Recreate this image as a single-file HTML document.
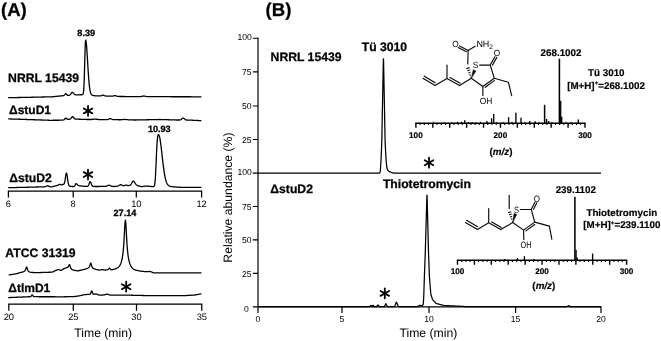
<!DOCTYPE html>
<html><head><meta charset="utf-8"><title>Figure</title>
<style>
html,body{margin:0;padding:0;background:#fff;}
body{width:661px;height:341px;overflow:hidden;}
svg{display:block}
text{font-family:"Liberation Sans",Arial,Helvetica,sans-serif;fill:#000;text-rendering:geometricPrecision;}
.pl{font-size:18.6px;font-weight:bold;stroke:#111;stroke-width:0.3px}
.b12{font-size:12.2px;font-weight:bold;stroke:#111;stroke-width:0.3px}
.b9{font-size:9.1px;font-weight:bold;stroke:#000;stroke-width:0.3px}
.b95{font-size:9.8px;font-weight:bold;stroke:#111;stroke-width:0.2px}
.b8{font-size:8.2px;font-weight:bold;stroke:#111;stroke-width:0.2px}
.r12{font-size:12.2px}
.tk{font-size:9.3px}
.tb{font-size:8.6px}
.ch{font-size:9.0px}
.ch2{font-size:9.3px}
</style></head>
<body>
<svg width="661" height="341" viewBox="0 0 661 341">
<rect width="661" height="341" fill="#fff"/>
<g fill="none" stroke="#000" stroke-width="1.3" stroke-linejoin="round" stroke-linecap="butt">
<path d="M8.2,97.70 L8.6,97.69 L9.0,97.69 L9.4,97.68 L9.8,97.67 L10.2,97.66 L10.6,97.66 L11.0,97.65 L11.4,97.64 L11.8,97.63 L12.2,97.63 L12.6,97.62 L13.0,97.61 L13.4,97.60 L13.8,97.60 L14.2,97.59 L14.6,97.58 L15.0,97.58 L15.4,97.57 L15.8,97.56 L16.2,97.55 L16.6,97.55 L17.0,97.54 L17.4,97.53 L17.8,97.52 L18.2,97.52 L18.6,97.51 L19.0,97.50 L19.4,97.49 L19.8,97.49 L20.2,97.48 L20.6,97.47 L21.0,97.47 L21.4,97.46 L21.8,97.45 L22.2,97.44 L22.6,97.44 L23.0,97.43 L23.4,97.42 L23.8,97.41 L24.2,97.41 L24.6,97.40 L25.0,97.39 L25.4,97.38 L25.8,97.38 L26.2,97.37 L26.6,97.36 L27.0,97.36 L27.4,97.35 L27.8,97.34 L28.2,97.33 L28.6,97.33 L29.0,97.32 L29.4,97.31 L29.8,97.30 L30.2,97.29 L30.6,97.29 L31.0,97.28 L31.4,97.27 L31.8,97.26 L32.2,97.25 L32.6,97.24 L33.0,97.23 L33.4,97.22 L33.8,97.21 L34.2,97.20 L34.6,97.20 L35.0,97.19 L35.4,97.18 L35.8,97.17 L36.2,97.16 L36.6,97.15 L37.0,97.14 L37.4,97.13 L37.8,97.12 L38.2,97.11 L38.6,97.10 L39.0,97.10 L39.4,97.09 L39.8,97.08 L40.2,97.07 L40.6,97.06 L41.0,97.05 L41.4,97.04 L41.8,97.03 L42.2,97.02 L42.6,97.01 L43.0,97.00 L43.4,97.00 L43.8,96.99 L44.2,96.98 L44.6,96.97 L45.0,96.96 L45.4,96.95 L45.8,96.94 L46.2,96.93 L46.6,96.92 L47.0,96.91 L47.4,96.90 L47.8,96.90 L48.2,96.89 L48.6,96.88 L49.0,96.87 L49.4,96.86 L49.8,96.85 L50.2,96.84 L50.6,96.83 L51.0,96.82 L51.4,96.81 L51.8,96.79 L52.2,96.77 L52.6,96.74 L53.0,96.70 L53.4,96.66 L53.8,96.62 L54.2,96.58 L54.6,96.54 L55.0,96.50 L55.4,96.46 L55.8,96.42 L56.2,96.38 L56.6,96.34 L57.0,96.30 L57.4,96.26 L57.8,96.22 L58.2,96.18 L58.6,96.14 L59.0,96.10 L59.4,96.06 L59.8,96.02 L60.2,95.98 L60.6,95.94 L61.0,95.90 L61.4,95.86 L61.8,95.82 L62.2,95.78 L62.6,95.74 L63.0,95.70 L63.4,95.64 L63.8,95.51 L64.2,95.27 L64.6,94.86 L65.0,94.35 L65.4,93.89 L65.8,93.70 L66.2,93.87 L66.6,94.29 L67.0,94.78 L67.4,95.15 L67.8,95.37 L68.2,95.45 L68.6,95.45 L69.0,95.38 L69.4,95.25 L69.8,95.02 L70.2,94.65 L70.6,94.15 L71.0,93.55 L71.4,92.96 L71.8,92.50 L72.2,92.31 L72.6,92.40 L73.0,92.68 L73.4,93.11 L73.8,93.57 L74.2,94.00 L74.6,94.35 L75.0,94.59 L75.4,94.74 L75.8,94.82 L76.2,94.85 L76.6,94.86 L77.0,94.86 L77.4,94.85 L77.8,94.84 L78.2,94.83 L78.6,94.82 L79.0,94.81 L79.4,94.80 L79.8,94.78 L80.2,94.77 L80.6,94.76 L81.0,94.75 L81.4,94.73 L81.8,94.72 L82.2,94.70 L82.6,94.62 L83.0,94.23 L83.4,92.83 L83.8,88.94 L84.2,80.64 L84.6,67.30 L85.0,51.99 L85.4,41.39 L85.8,40.18 L86.2,42.35 L86.6,46.42 L87.0,51.94 L87.4,58.33 L87.8,65.00 L88.2,71.44 L88.6,77.23 L89.0,82.15 L89.4,86.09 L89.8,89.10 L90.2,91.29 L90.6,92.82 L91.0,93.84 L91.4,94.50 L91.8,94.92 L92.2,95.19 L92.6,95.35 L93.0,95.47 L93.4,95.55 L93.8,95.61 L94.2,95.67 L94.6,95.72 L95.0,95.77 L95.4,95.82 L95.8,95.86 L96.2,95.88 L96.6,95.90 L97.0,95.91 L97.4,95.92 L97.8,95.92 L98.2,95.92 L98.6,95.93 L99.0,95.93 L99.4,95.94 L99.8,95.94 L100.2,95.93 L100.6,95.90 L101.0,95.83 L101.4,95.71 L101.8,95.53 L102.2,95.32 L102.6,95.14 L103.0,95.08 L103.4,95.15 L103.8,95.33 L104.2,95.55 L104.6,95.75 L105.0,95.88 L105.4,95.96 L105.8,96.01 L106.2,96.03 L106.6,96.05 L107.0,96.07 L107.4,96.08 L107.8,96.09 L108.2,96.11 L108.6,96.12 L109.0,96.13 L109.4,96.15 L109.8,96.16 L110.2,96.17 L110.6,96.19 L111.0,96.20 L111.4,96.21 L111.8,96.21 L112.2,96.19 L112.6,96.16 L113.0,96.09 L113.4,95.99 L113.8,95.87 L114.2,95.75 L114.6,95.66 L115.0,95.63 L115.4,95.68 L115.8,95.80 L116.2,95.95 L116.6,96.10 L117.0,96.23 L117.4,96.32 L117.8,96.38 L118.2,96.42 L118.6,96.45 L119.0,96.46 L119.4,96.48 L119.8,96.49 L120.2,96.50 L120.6,96.50 L121.0,96.50 L121.4,96.51 L121.8,96.51 L122.2,96.51 L122.6,96.51 L123.0,96.51 L123.4,96.52 L123.8,96.52 L124.2,96.52 L124.6,96.52 L125.0,96.53 L125.4,96.53 L125.8,96.53 L126.2,96.53 L126.6,96.53 L127.0,96.54 L127.4,96.54 L127.8,96.54 L128.2,96.54 L128.6,96.54 L129.0,96.54 L129.4,96.55 L129.8,96.55 L130.2,96.55 L130.6,96.55 L131.0,96.56 L131.4,96.56 L131.8,96.56 L132.2,96.56 L132.6,96.56 L133.0,96.56 L133.4,96.57 L133.8,96.57 L134.2,96.57 L134.6,96.57 L135.0,96.57 L135.4,96.58 L135.8,96.58 L136.2,96.58 L136.6,96.58 L137.0,96.58 L137.4,96.59 L137.8,96.59 L138.2,96.59 L138.6,96.59 L139.0,96.59 L139.4,96.59 L139.8,96.58 L140.2,96.56 L140.6,96.53 L141.0,96.49 L141.4,96.42 L141.8,96.34 L142.2,96.25 L142.6,96.15 L143.0,96.08 L143.4,96.03 L143.8,96.02 L144.2,96.05 L144.6,96.12 L145.0,96.21 L145.4,96.31 L145.8,96.40 L146.2,96.48 L146.6,96.54 L147.0,96.58 L147.4,96.61 L147.8,96.62 L148.2,96.63 L148.6,96.64 L149.0,96.64 L149.4,96.65 L149.8,96.65 L150.2,96.65 L150.6,96.65 L151.0,96.65 L151.4,96.66 L151.8,96.66 L152.2,96.66 L152.6,96.66 L153.0,96.66 L153.4,96.67 L153.8,96.67 L154.2,96.67 L154.6,96.67 L155.0,96.67 L155.4,96.68 L155.8,96.68 L156.2,96.68 L156.6,96.68 L157.0,96.69 L157.4,96.69 L157.8,96.69 L158.2,96.69 L158.6,96.69 L159.0,96.69 L159.4,96.70 L159.8,96.70 L160.2,96.70 L160.6,96.70 L161.0,96.70 L161.4,96.70 L161.8,96.70 L162.2,96.71 L162.6,96.71 L163.0,96.71 L163.4,96.71 L163.8,96.71 L164.2,96.71 L164.6,96.71 L165.0,96.71 L165.4,96.71 L165.8,96.71 L166.2,96.71 L166.6,96.72 L167.0,96.72 L167.4,96.72 L167.8,96.72 L168.2,96.72 L168.6,96.72 L169.0,96.72 L169.4,96.72 L169.8,96.72 L170.2,96.72 L170.6,96.73 L171.0,96.73 L171.4,96.73 L171.8,96.73 L172.2,96.73 L172.6,96.73 L173.0,96.73 L173.4,96.73 L173.8,96.73 L174.2,96.73 L174.6,96.74 L175.0,96.74 L175.4,96.74 L175.8,96.74 L176.2,96.74 L176.6,96.74 L177.0,96.74 L177.4,96.74 L177.8,96.74 L178.2,96.74 L178.6,96.74 L179.0,96.75 L179.4,96.75 L179.8,96.75 L180.2,96.75 L180.6,96.75 L181.0,96.75 L181.4,96.75 L181.8,96.75 L182.2,96.75 L182.6,96.75 L183.0,96.76 L183.4,96.76 L183.8,96.76 L184.2,96.76 L184.6,96.76 L185.0,96.76 L185.4,96.76 L185.8,96.76 L186.2,96.76 L186.6,96.76 L187.0,96.76 L187.4,96.77 L187.8,96.77 L188.2,96.77 L188.6,96.77 L189.0,96.77 L189.4,96.77 L189.8,96.77 L190.2,96.77 L190.6,96.77 L191.0,96.77 L191.4,96.78 L191.8,96.78 L192.2,96.78 L192.6,96.78 L193.0,96.78 L193.4,96.78 L193.8,96.78 L194.2,96.78 L194.6,96.78 L195.0,96.78 L195.4,96.79 L195.8,96.79 L196.2,96.79 L196.6,96.79 L197.0,96.79 L197.4,96.79 L197.8,96.79 L198.2,96.79 L198.6,96.79 L199.0,96.79 L199.4,96.79 L199.8,96.80 L200.2,96.80 L200.6,96.80 L201.0,96.80 L201.4,96.80"/>
<path d="M8.2,118.91 L8.6,118.92 L9.0,118.93 L9.4,118.94 L9.8,118.95 L10.2,118.96 L10.6,118.98 L11.0,118.99 L11.4,119.00 L11.8,119.02 L12.2,119.03 L12.6,119.04 L13.0,119.05 L13.4,119.07 L13.8,119.08 L14.2,119.09 L14.6,119.11 L15.0,119.12 L15.4,119.13 L15.8,119.14 L16.2,119.16 L16.6,119.17 L17.0,119.18 L17.4,119.20 L17.8,119.21 L18.2,119.22 L18.6,119.23 L19.0,119.25 L19.4,119.26 L19.8,119.27 L20.2,119.29 L20.6,119.30 L21.0,119.31 L21.4,119.32 L21.8,119.34 L22.2,119.35 L22.6,119.36 L23.0,119.38 L23.4,119.39 L23.8,119.40 L24.2,119.41 L24.6,119.43 L25.0,119.44 L25.4,119.45 L25.8,119.47 L26.2,119.48 L26.6,119.49 L27.0,119.50 L27.4,119.52 L27.8,119.53 L28.2,119.54 L28.6,119.56 L29.0,119.57 L29.4,119.58 L29.8,119.59 L30.2,119.61 L30.6,119.62 L31.0,119.64 L31.4,119.65 L31.8,119.66 L32.2,119.68 L32.6,119.69 L33.0,119.71 L33.4,119.72 L33.8,119.73 L34.2,119.75 L34.6,119.76 L35.0,119.78 L35.4,119.79 L35.8,119.80 L36.2,119.82 L36.6,119.83 L37.0,119.84 L37.4,119.86 L37.8,119.87 L38.2,119.89 L38.6,119.90 L39.0,119.92 L39.4,119.93 L39.8,119.94 L40.2,119.96 L40.6,119.97 L41.0,119.99 L41.4,120.00 L41.8,120.01 L42.2,120.03 L42.6,120.04 L43.0,120.06 L43.4,120.07 L43.8,120.08 L44.2,120.10 L44.6,120.11 L45.0,120.12 L45.4,120.14 L45.8,120.15 L46.2,120.17 L46.6,120.18 L47.0,120.19 L47.4,120.21 L47.8,120.22 L48.2,120.24 L48.6,120.25 L49.0,120.27 L49.4,120.28 L49.8,120.29 L50.2,120.29 L50.6,120.29 L51.0,120.29 L51.4,120.29 L51.8,120.28 L52.2,120.28 L52.6,120.28 L53.0,120.28 L53.4,120.27 L53.8,120.27 L54.2,120.27 L54.6,120.26 L55.0,120.26 L55.4,120.25 L55.8,120.25 L56.2,120.25 L56.6,120.25 L57.0,120.24 L57.4,120.24 L57.8,120.24 L58.2,120.23 L58.6,120.23 L59.0,120.22 L59.4,120.22 L59.8,120.22 L60.2,120.21 L60.6,120.21 L61.0,120.21 L61.4,120.20 L61.8,120.18 L62.2,120.15 L62.6,120.12 L63.0,120.06 L63.4,119.97 L63.8,119.83 L64.2,119.59 L64.6,119.21 L65.0,118.74 L65.4,118.31 L65.8,118.11 L66.2,118.21 L66.6,118.53 L67.0,118.90 L67.4,119.18 L67.8,119.32 L68.2,119.36 L68.6,119.34 L69.0,119.29 L69.4,119.24 L69.8,119.16 L70.2,119.03 L70.6,118.77 L71.0,118.36 L71.4,117.78 L71.8,117.16 L72.2,116.71 L72.6,116.61 L73.0,116.82 L73.4,117.24 L73.8,117.75 L74.2,118.25 L74.6,118.64 L75.0,118.90 L75.4,119.06 L75.8,119.14 L76.2,119.18 L76.6,119.19 L77.0,119.20 L77.4,119.20 L77.8,119.21 L78.2,119.21 L78.6,119.22 L79.0,119.23 L79.4,119.25 L79.8,119.26 L80.2,119.27 L80.6,119.29 L81.0,119.30 L81.4,119.31 L81.8,119.33 L82.2,119.34 L82.6,119.35 L83.0,119.37 L83.4,119.38 L83.8,119.39 L84.2,119.41 L84.6,119.42 L85.0,119.43 L85.4,119.45 L85.8,119.46 L86.2,119.47 L86.6,119.48 L87.0,119.49 L87.4,119.50 L87.8,119.50 L88.2,119.51 L88.6,119.51 L89.0,119.51 L89.4,119.51 L89.8,119.51 L90.2,119.51 L90.6,119.51 L91.0,119.50 L91.4,119.49 L91.8,119.47 L92.2,119.44 L92.6,119.39 L93.0,119.32 L93.4,119.24 L93.8,119.17 L94.2,119.10 L94.6,119.05 L95.0,119.03 L95.4,119.05 L95.8,119.10 L96.2,119.18 L96.6,119.26 L97.0,119.34 L97.4,119.41 L97.8,119.46 L98.2,119.50 L98.6,119.52 L99.0,119.54 L99.4,119.55 L99.8,119.55 L100.2,119.56 L100.6,119.56 L101.0,119.56 L101.4,119.56 L101.8,119.56 L102.2,119.57 L102.6,119.57 L103.0,119.57 L103.4,119.57 L103.8,119.57 L104.2,119.57 L104.6,119.58 L105.0,119.58 L105.4,119.58 L105.8,119.58 L106.2,119.58 L106.6,119.57 L107.0,119.56 L107.4,119.52 L107.8,119.46 L108.2,119.34 L108.6,119.18 L109.0,118.99 L109.4,118.80 L109.8,118.66 L110.2,118.61 L110.6,118.66 L111.0,118.82 L111.4,119.02 L111.8,119.22 L112.2,119.39 L112.6,119.51 L113.0,119.58 L113.4,119.63 L113.8,119.65 L114.2,119.66 L114.6,119.67 L115.0,119.68 L115.4,119.69 L115.8,119.69 L116.2,119.70 L116.6,119.71 L117.0,119.71 L117.4,119.72 L117.8,119.72 L118.2,119.73 L118.6,119.74 L119.0,119.74 L119.4,119.74 L119.8,119.74 L120.2,119.74 L120.6,119.73 L121.0,119.72 L121.4,119.70 L121.8,119.68 L122.2,119.65 L122.6,119.61 L123.0,119.57 L123.4,119.52 L123.8,119.49 L124.2,119.46 L124.6,119.44 L125.0,119.44 L125.4,119.45 L125.8,119.48 L126.2,119.53 L126.6,119.58 L127.0,119.63 L127.4,119.68 L127.8,119.73 L128.2,119.78 L128.6,119.82 L129.0,119.85 L129.4,119.87 L129.8,119.89 L130.2,119.91 L130.6,119.92 L131.0,119.93 L131.4,119.94 L131.8,119.95 L132.2,119.95 L132.6,119.96 L133.0,119.97 L133.4,119.97 L133.8,119.98 L134.2,119.99 L134.6,119.99 L135.0,119.99 L135.4,119.99 L135.8,119.98 L136.2,119.98 L136.6,119.97 L137.0,119.96 L137.4,119.95 L137.8,119.94 L138.2,119.94 L138.6,119.93 L139.0,119.92 L139.4,119.91 L139.8,119.90 L140.2,119.90 L140.6,119.89 L141.0,119.88 L141.4,119.87 L141.8,119.86 L142.2,119.86 L142.6,119.85 L143.0,119.84 L143.4,119.83 L143.8,119.82 L144.2,119.82 L144.6,119.81 L145.0,119.80 L145.4,119.79 L145.8,119.78 L146.2,119.78 L146.6,119.77 L147.0,119.76 L147.4,119.75 L147.8,119.74 L148.2,119.74 L148.6,119.73 L149.0,119.72 L149.4,119.71 L149.8,119.70 L150.2,119.70 L150.6,119.69 L151.0,119.68 L151.4,119.67 L151.8,119.66 L152.2,119.66 L152.6,119.65 L153.0,119.64 L153.4,119.63 L153.8,119.62 L154.2,119.62 L154.6,119.61 L155.0,119.60 L155.4,119.59 L155.8,119.58 L156.2,119.58 L156.6,119.57 L157.0,119.56 L157.4,119.55 L157.8,119.54 L158.2,119.54 L158.6,119.53 L159.0,119.52 L159.4,119.51 L159.8,119.51 L160.2,119.51 L160.6,119.52 L161.0,119.53 L161.4,119.54 L161.8,119.55 L162.2,119.56 L162.6,119.58 L163.0,119.59 L163.4,119.60 L163.8,119.61 L164.2,119.62 L164.6,119.64 L165.0,119.65 L165.4,119.66 L165.8,119.67 L166.2,119.68 L166.6,119.69 L167.0,119.71 L167.4,119.72 L167.8,119.73 L168.2,119.74 L168.6,119.75 L169.0,119.76 L169.4,119.78 L169.8,119.79 L170.2,119.80 L170.6,119.81 L171.0,119.82 L171.4,119.84 L171.8,119.85 L172.2,119.86 L172.6,119.87 L173.0,119.88 L173.4,119.89 L173.8,119.91 L174.2,119.92 L174.6,119.93 L175.0,119.94 L175.4,119.95 L175.8,119.96 L176.2,119.98 L176.6,119.99 L177.0,119.99 L177.4,120.00 L177.8,120.01 L178.2,120.01 L178.6,120.01 L179.0,120.01 L179.4,120.00 L179.8,119.96 L180.2,119.89 L180.6,119.76 L181.0,119.53 L181.4,119.21 L181.8,118.82 L182.2,118.44 L182.6,118.15 L183.0,118.05 L183.4,118.13 L183.8,118.35 L184.2,118.67 L184.6,119.02 L185.0,119.34 L185.4,119.60 L185.8,119.80 L186.2,119.92 L186.6,120.00 L187.0,120.04 L187.4,120.07 L187.8,120.08 L188.2,120.08 L188.6,120.09 L189.0,120.09 L189.4,120.10 L189.8,120.11 L190.2,120.12 L190.6,120.13 L191.0,120.15 L191.4,120.17 L191.8,120.19 L192.2,120.21 L192.6,120.23 L193.0,120.26 L193.4,120.28 L193.8,120.30 L194.2,120.32 L194.6,120.34 L195.0,120.36 L195.4,120.38 L195.8,120.40 L196.2,120.42 L196.6,120.44 L197.0,120.46 L197.4,120.48 L197.8,120.50 L198.2,120.52 L198.6,120.54 L199.0,120.57 L199.4,120.59 L199.8,120.61 L200.2,120.63 L200.6,120.65 L201.0,120.66 L201.4,120.68"/>
<path d="M8.2,187.69 L8.6,187.69 L9.0,187.68 L9.4,187.67 L9.8,187.66 L10.2,187.65 L10.6,187.64 L11.0,187.64 L11.4,187.63 L11.8,187.62 L12.2,187.61 L12.6,187.60 L13.0,187.59 L13.4,187.58 L13.8,187.57 L14.2,187.56 L14.6,187.55 L15.0,187.54 L15.4,187.53 L15.8,187.53 L16.2,187.52 L16.6,187.51 L17.0,187.50 L17.4,187.49 L17.8,187.48 L18.2,187.47 L18.6,187.46 L19.0,187.45 L19.4,187.44 L19.8,187.43 L20.2,187.42 L20.6,187.42 L21.0,187.41 L21.4,187.40 L21.8,187.39 L22.2,187.38 L22.6,187.37 L23.0,187.36 L23.4,187.35 L23.8,187.34 L24.2,187.33 L24.6,187.32 L25.0,187.31 L25.4,187.31 L25.8,187.30 L26.2,187.29 L26.6,187.28 L27.0,187.27 L27.4,187.26 L27.8,187.25 L28.2,187.24 L28.6,187.23 L29.0,187.22 L29.4,187.21 L29.8,187.20 L30.2,187.19 L30.6,187.18 L31.0,187.17 L31.4,187.16 L31.8,187.15 L32.2,187.14 L32.6,187.13 L33.0,187.11 L33.4,187.10 L33.8,187.09 L34.2,187.08 L34.6,187.07 L35.0,187.06 L35.4,187.05 L35.8,187.03 L36.2,187.02 L36.6,187.01 L37.0,187.00 L37.4,186.99 L37.8,186.98 L38.2,186.97 L38.6,186.95 L39.0,186.94 L39.4,186.93 L39.8,186.92 L40.2,186.91 L40.6,186.90 L41.0,186.89 L41.4,186.87 L41.8,186.86 L42.2,186.85 L42.6,186.84 L43.0,186.83 L43.4,186.82 L43.8,186.80 L44.2,186.78 L44.6,186.75 L45.0,186.69 L45.4,186.58 L45.8,186.42 L46.2,186.22 L46.6,186.00 L47.0,185.83 L47.4,185.75 L47.8,185.78 L48.2,185.92 L48.6,186.13 L49.0,186.36 L49.4,186.55 L49.8,186.70 L50.2,186.79 L50.6,186.84 L51.0,186.87 L51.4,186.87 L51.8,186.85 L52.2,186.79 L52.6,186.71 L53.0,186.60 L53.4,186.48 L53.8,186.36 L54.2,186.24 L54.6,186.12 L55.0,186.00 L55.4,185.88 L55.8,185.76 L56.2,185.64 L56.6,185.54 L57.0,185.45 L57.4,185.37 L57.8,185.28 L58.2,185.13 L58.6,184.86 L59.0,184.52 L59.4,184.29 L59.8,184.32 L60.2,184.56 L60.6,184.81 L61.0,184.91 L61.4,184.88 L61.8,184.76 L62.2,184.60 L62.6,184.46 L63.0,184.37 L63.4,184.30 L63.8,184.14 L64.2,183.71 L64.6,182.64 L65.0,180.66 L65.4,177.88 L65.8,175.02 L66.2,173.19 L66.6,173.26 L67.0,175.00 L67.4,177.72 L67.8,180.57 L68.2,182.90 L68.6,184.46 L69.0,185.37 L69.4,185.85 L69.8,186.10 L70.2,186.25 L70.6,186.34 L71.0,186.41 L71.4,186.45 L71.8,186.47 L72.2,186.50 L72.6,186.52 L73.0,186.55 L73.4,186.55 L73.8,186.51 L74.2,186.37 L74.6,186.04 L75.0,185.42 L75.4,184.59 L75.8,183.89 L76.2,183.66 L76.6,183.81 L77.0,184.17 L77.4,184.63 L77.8,185.07 L78.2,185.40 L78.6,185.61 L79.0,185.73 L79.4,185.80 L79.8,185.84 L80.2,185.88 L80.6,185.92 L81.0,185.96 L81.4,186.00 L81.8,186.03 L82.2,186.07 L82.6,186.11 L83.0,186.15 L83.4,186.18 L83.8,186.22 L84.2,186.26 L84.6,186.30 L85.0,186.33 L85.4,186.36 L85.8,186.38 L86.2,186.40 L86.6,186.41 L87.0,186.40 L87.4,186.36 L87.8,186.23 L88.2,185.90 L88.6,185.23 L89.0,184.15 L89.4,182.88 L89.8,181.89 L90.2,181.66 L90.6,182.11 L91.0,183.01 L91.4,184.06 L91.8,185.00 L92.2,185.68 L92.6,186.10 L93.0,186.31 L93.4,186.41 L93.8,186.45 L94.2,186.47 L94.6,186.47 L95.0,186.48 L95.4,186.48 L95.8,186.49 L96.2,186.49 L96.6,186.49 L97.0,186.49 L97.4,186.49 L97.8,186.49 L98.2,186.49 L98.6,186.48 L99.0,186.48 L99.4,186.47 L99.8,186.47 L100.2,186.46 L100.6,186.46 L101.0,186.45 L101.4,186.45 L101.8,186.44 L102.2,186.43 L102.6,186.43 L103.0,186.42 L103.4,186.42 L103.8,186.41 L104.2,186.40 L104.6,186.39 L105.0,186.37 L105.4,186.34 L105.8,186.29 L106.2,186.20 L106.6,186.08 L107.0,185.93 L107.4,185.75 L107.8,185.56 L108.2,185.39 L108.6,185.28 L109.0,185.24 L109.4,185.29 L109.8,185.41 L110.2,185.58 L110.6,185.78 L111.0,185.97 L111.4,186.13 L111.8,186.26 L112.2,186.35 L112.6,186.41 L113.0,186.45 L113.4,186.47 L113.8,186.48 L114.2,186.49 L114.6,186.48 L115.0,186.46 L115.4,186.43 L115.8,186.39 L116.2,186.33 L116.6,186.27 L117.0,186.21 L117.4,186.14 L117.8,186.06 L118.2,185.94 L118.6,185.77 L119.0,185.55 L119.4,185.28 L119.8,185.01 L120.2,184.77 L120.6,184.64 L121.0,184.65 L121.4,184.78 L121.8,185.00 L122.2,185.25 L122.6,185.48 L123.0,185.65 L123.4,185.73 L123.8,185.74 L124.2,185.67 L124.6,185.52 L125.0,185.34 L125.4,185.16 L125.8,185.06 L126.2,185.06 L126.6,185.16 L127.0,185.30 L127.4,185.42 L127.8,185.51 L128.2,185.55 L128.6,185.54 L129.0,185.51 L129.4,185.44 L129.8,185.32 L130.2,185.13 L130.6,184.81 L131.0,184.36 L131.4,183.75 L131.8,183.02 L132.2,182.27 L132.6,181.62 L133.0,181.20 L133.4,181.11 L133.8,181.31 L134.2,181.74 L134.6,182.34 L135.0,183.00 L135.4,183.64 L135.8,184.20 L136.2,184.65 L136.6,185.00 L137.0,185.26 L137.4,185.46 L137.8,185.62 L138.2,185.77 L138.6,185.89 L139.0,186.00 L139.4,186.11 L139.8,186.21 L140.2,186.32 L140.6,186.42 L141.0,186.51 L141.4,186.57 L141.8,186.60 L142.2,186.59 L142.6,186.54 L143.0,186.47 L143.4,186.40 L143.8,186.33 L144.2,186.26 L144.6,186.19 L145.0,186.13 L145.4,186.08 L145.8,186.06 L146.2,186.06 L146.6,186.08 L147.0,186.11 L147.4,186.15 L147.8,186.18 L148.2,186.22 L148.6,186.25 L149.0,186.29 L149.4,186.32 L149.8,186.36 L150.2,186.39 L150.6,186.43 L151.0,186.46 L151.4,186.50 L151.8,186.53 L152.2,186.57 L152.6,186.60 L153.0,186.63 L153.4,186.63 L153.8,186.54 L154.2,186.13 L154.6,184.93 L155.0,182.20 L155.4,177.20 L155.8,169.79 L156.2,160.72 L156.6,151.51 L157.0,143.76 L157.4,138.43 L157.8,135.62 L158.2,134.69 L158.6,134.62 L159.0,135.10 L159.4,136.22 L159.8,137.94 L160.2,140.20 L160.6,142.90 L161.0,145.97 L161.4,149.29 L161.8,152.77 L162.2,156.31 L162.6,159.82 L163.0,163.22 L163.4,166.44 L163.8,169.43 L164.2,172.15 L164.6,174.59 L165.0,176.74 L165.4,178.59 L165.8,180.17 L166.2,181.49 L166.6,182.58 L167.0,183.46 L167.4,184.17 L167.8,184.74 L168.2,185.19 L168.6,185.54 L169.0,185.82 L169.4,186.04 L169.8,186.20 L170.2,186.33 L170.6,186.43 L171.0,186.51 L171.4,186.58 L171.8,186.63 L172.2,186.68 L172.6,186.72 L173.0,186.75 L173.4,186.79 L173.8,186.82 L174.2,186.85 L174.6,186.88 L175.0,186.91 L175.4,186.95 L175.8,186.98 L176.2,187.01 L176.6,187.04 L177.0,187.07 L177.4,187.10 L177.8,187.13 L178.2,187.16 L178.6,187.19 L179.0,187.22 L179.4,187.25 L179.8,187.27 L180.2,187.29 L180.6,187.30 L181.0,187.30 L181.4,187.30 L181.8,187.30 L182.2,187.30 L182.6,187.30 L183.0,187.30 L183.4,187.30 L183.8,187.30 L184.2,187.30 L184.6,187.30 L185.0,187.30 L185.4,187.30 L185.8,187.30 L186.2,187.30 L186.6,187.30 L187.0,187.30 L187.4,187.30 L187.8,187.30 L188.2,187.30 L188.6,187.30 L189.0,187.30 L189.4,187.30 L189.8,187.30 L190.2,187.30 L190.6,187.30 L191.0,187.30 L191.4,187.30 L191.8,187.30 L192.2,187.30 L192.6,187.30 L193.0,187.30 L193.4,187.30 L193.8,187.30 L194.2,187.30 L194.6,187.30 L195.0,187.30 L195.4,187.30 L195.8,187.30 L196.2,187.30 L196.6,187.30 L197.0,187.30 L197.4,187.30 L197.8,187.30 L198.2,187.30 L198.6,187.30 L199.0,187.30 L199.4,187.30 L199.8,187.30 L200.2,187.30 L200.6,187.30 L201.0,187.30 L201.4,187.30"/>
<path d="M8.7,274.95 L9.1,274.91 L9.5,274.85 L9.9,274.78 L10.3,274.72 L10.7,274.66 L11.1,274.60 L11.5,274.53 L11.9,274.47 L12.3,274.41 L12.7,274.34 L13.1,274.28 L13.5,274.22 L13.9,274.15 L14.3,274.09 L14.7,274.03 L15.1,273.96 L15.5,273.90 L15.9,273.82 L16.3,273.73 L16.7,273.62 L17.1,273.51 L17.5,273.40 L17.9,273.29 L18.3,273.18 L18.7,273.07 L19.1,272.96 L19.5,272.85 L19.9,272.73 L20.3,272.61 L20.7,272.49 L21.1,272.38 L21.5,272.29 L21.9,272.20 L22.3,272.10 L22.7,271.98 L23.1,271.84 L23.5,271.68 L23.9,271.50 L24.3,271.27 L24.7,270.97 L25.1,270.52 L25.5,269.81 L25.9,268.77 L26.3,267.55 L26.7,266.95 L27.1,267.86 L27.5,269.38 L27.9,270.47 L28.3,271.14 L28.7,271.56 L29.1,271.82 L29.5,271.99 L29.9,272.11 L30.3,272.20 L30.7,272.27 L31.1,272.32 L31.5,272.37 L31.9,272.40 L32.3,272.43 L32.7,272.46 L33.1,272.49 L33.5,272.51 L33.9,272.53 L34.3,272.55 L34.7,272.56 L35.1,272.58 L35.5,272.60 L35.9,272.61 L36.3,272.62 L36.7,272.63 L37.1,272.62 L37.5,272.61 L37.9,272.60 L38.3,272.59 L38.7,272.58 L39.1,272.57 L39.5,272.56 L39.9,272.54 L40.3,272.53 L40.7,272.52 L41.1,272.51 L41.5,272.50 L41.9,272.49 L42.3,272.47 L42.7,272.46 L43.1,272.45 L43.5,272.44 L43.9,272.43 L44.3,272.41 L44.7,272.40 L45.1,272.39 L45.5,272.38 L45.9,272.36 L46.3,272.35 L46.7,272.34 L47.1,272.32 L47.5,272.31 L47.9,272.30 L48.3,272.29 L48.7,272.27 L49.1,272.26 L49.5,272.25 L49.9,272.23 L50.3,272.22 L50.7,272.21 L51.1,272.19 L51.5,272.18 L51.9,272.17 L52.3,272.11 L52.7,271.98 L53.1,271.79 L53.5,271.58 L53.9,271.38 L54.3,271.17 L54.7,270.96 L55.1,270.76 L55.5,270.55 L55.9,270.34 L56.3,270.17 L56.7,270.03 L57.1,269.93 L57.5,269.83 L57.9,269.73 L58.3,269.62 L58.7,269.61 L59.1,269.68 L59.5,269.84 L59.9,270.01 L60.3,270.17 L60.7,270.33 L61.1,270.35 L61.5,270.23 L61.9,269.97 L62.3,269.71 L62.7,269.44 L63.1,269.18 L63.5,268.91 L63.9,268.64 L64.3,268.42 L64.7,268.26 L65.1,268.15 L65.5,268.03 L65.9,267.90 L66.3,267.74 L66.7,267.61 L67.1,267.50 L67.5,267.38 L67.9,267.11 L68.3,266.63 L68.7,265.87 L69.1,264.96 L69.5,264.57 L69.9,265.47 L70.3,266.89 L70.7,267.95 L71.1,268.64 L71.5,269.12 L71.9,269.46 L72.3,269.70 L72.7,269.88 L73.1,270.00 L73.5,270.10 L73.9,270.20 L74.3,270.28 L74.7,270.36 L75.1,270.43 L75.5,270.50 L75.9,270.57 L76.3,270.63 L76.7,270.70 L77.1,270.76 L77.5,270.81 L77.9,270.81 L78.3,270.76 L78.7,270.67 L79.1,270.59 L79.5,270.50 L79.9,270.41 L80.3,270.32 L80.7,270.24 L81.1,270.15 L81.5,270.06 L81.9,269.96 L82.3,269.87 L82.7,269.78 L83.1,269.68 L83.5,269.59 L83.9,269.49 L84.3,269.39 L84.7,269.29 L85.1,269.18 L85.5,269.06 L85.9,268.94 L86.3,268.80 L86.7,268.65 L87.1,268.48 L87.5,268.29 L87.9,268.07 L88.3,267.81 L88.7,267.51 L89.1,267.11 L89.5,266.49 L89.9,265.50 L90.3,264.14 L90.7,263.10 L91.1,263.63 L91.5,265.21 L91.9,266.48 L92.3,267.26 L92.7,267.75 L93.1,268.09 L93.5,268.36 L93.9,268.58 L94.3,268.78 L94.7,268.94 L95.1,269.09 L95.5,269.23 L95.9,269.36 L96.3,269.49 L96.7,269.60 L97.1,269.69 L97.5,269.76 L97.9,269.83 L98.3,269.90 L98.7,269.97 L99.1,270.03 L99.5,270.10 L99.9,270.11 L100.3,270.07 L100.7,269.97 L101.1,269.85 L101.5,269.73 L101.9,269.61 L102.3,269.55 L102.7,269.56 L103.1,269.65 L103.5,269.76 L103.9,269.87 L104.3,269.98 L104.7,270.05 L105.1,270.06 L105.5,270.01 L105.9,269.95 L106.3,269.89 L106.7,269.82 L107.1,269.75 L107.5,269.67 L107.9,269.54 L108.3,269.29 L108.7,268.85 L109.1,268.35 L109.5,268.14 L109.9,268.40 L110.3,268.95 L110.7,269.44 L111.1,269.70 L111.5,269.77 L111.9,269.73 L112.3,269.65 L112.7,269.57 L113.1,269.48 L113.5,269.38 L113.9,269.28 L114.3,269.17 L114.7,269.05 L115.1,268.91 L115.5,268.77 L115.9,268.60 L116.3,268.41 L116.7,268.23 L117.1,268.03 L117.5,267.83 L117.9,267.57 L118.3,267.27 L118.7,266.90 L119.1,266.47 L119.5,265.94 L119.9,265.32 L120.3,264.58 L120.7,263.69 L121.1,262.62 L121.5,261.34 L121.9,259.76 L122.3,257.79 L122.7,255.29 L123.1,252.06 L123.5,247.82 L123.9,242.27 L124.3,235.33 L124.7,227.67 L125.1,221.55 L125.5,220.11 L125.9,224.29 L126.3,231.62 L126.7,239.14 L127.1,245.46 L127.5,250.38 L127.9,254.14 L128.3,257.03 L128.7,259.30 L129.1,261.11 L129.5,262.59 L129.9,263.82 L130.3,264.85 L130.7,265.72 L131.1,266.45 L131.5,267.08 L131.9,267.62 L132.3,268.08 L132.7,268.47 L133.1,268.80 L133.5,269.08 L133.9,269.33 L134.3,269.54 L134.7,269.72 L135.1,269.88 L135.5,270.02 L135.9,270.14 L136.3,270.25 L136.7,270.35 L137.1,270.45 L137.5,270.54 L137.9,270.62 L138.3,270.70 L138.7,270.77 L139.1,270.84 L139.5,270.91 L139.9,270.97 L140.3,271.03 L140.7,271.09 L141.1,271.15 L141.5,271.20 L141.9,271.25 L142.3,271.31 L142.7,271.36 L143.1,271.41 L143.5,271.46 L143.9,271.50 L144.3,271.55 L144.7,271.60 L145.1,271.64 L145.5,271.69 L145.9,271.71 L146.3,271.71 L146.7,271.69 L147.1,271.66 L147.5,271.62 L147.9,271.59 L148.3,271.56 L148.7,271.53 L149.1,271.49 L149.5,271.46 L149.9,271.47 L150.3,271.55 L150.7,271.69 L151.1,271.85 L151.5,272.00 L151.9,272.16 L152.3,272.31 L152.7,272.46 L153.1,272.62 L153.5,272.77 L153.9,272.89 L154.3,272.95 L154.7,272.97 L155.1,272.97 L155.5,272.97 L155.9,272.97 L156.3,272.97 L156.7,272.97 L157.1,272.97 L157.5,272.97 L157.9,272.97 L158.3,272.97 L158.7,272.97 L159.1,272.97 L159.5,272.97 L159.9,272.97 L160.3,272.97 L160.7,272.97 L161.1,272.97 L161.5,272.97 L161.9,272.97 L162.3,272.97 L162.7,272.97 L163.1,272.96 L163.5,272.96 L163.9,272.96 L164.3,272.96 L164.7,272.96 L165.1,272.96 L165.5,272.96 L165.9,272.96 L166.3,272.96 L166.7,272.95 L167.1,272.95 L167.5,272.95 L167.9,272.95 L168.3,272.95 L168.7,272.95 L169.1,272.95 L169.5,272.94 L169.9,272.94 L170.3,272.94 L170.7,272.94 L171.1,272.94 L171.5,272.94 L171.9,272.94 L172.3,272.93 L172.7,272.93 L173.1,272.93 L173.5,272.93 L173.9,272.93 L174.3,272.93 L174.7,272.92 L175.1,272.92 L175.5,272.92 L175.9,272.92 L176.3,272.92 L176.7,272.91 L177.1,272.91 L177.5,272.91 L177.9,272.91 L178.3,272.91 L178.7,272.90 L179.1,272.90 L179.5,272.90 L179.9,272.90 L180.3,272.90 L180.7,272.89 L181.1,272.89 L181.5,272.89 L181.9,272.89 L182.3,272.89 L182.7,272.88 L183.1,272.88 L183.5,272.88 L183.9,272.88 L184.3,272.88 L184.7,272.87 L185.1,272.87 L185.5,272.87 L185.9,272.87 L186.3,272.87 L186.7,272.86 L187.1,272.86 L187.5,272.86 L187.9,272.86 L188.3,272.86 L188.7,272.85 L189.1,272.85 L189.5,272.85 L189.9,272.85 L190.3,272.84 L190.7,272.84 L191.1,272.84 L191.5,272.84 L191.9,272.84 L192.3,272.83 L192.7,272.83 L193.1,272.83 L193.5,272.83 L193.9,272.82 L194.3,272.82 L194.7,272.82 L195.1,272.82 L195.5,272.82 L195.9,272.81 L196.3,272.81 L196.7,272.81 L197.1,272.81 L197.5,272.80 L197.9,272.80 L198.3,272.80 L198.7,272.80 L199.1,272.79 L199.5,272.79 L199.9,272.79 L200.3,272.79 L200.7,272.79 L201.1,272.78 L201.5,272.78"/>
<path d="M8.2,297.59 L8.6,297.58 L9.0,297.57 L9.4,297.55 L9.8,297.53 L10.2,297.52 L10.6,297.50 L11.0,297.48 L11.4,297.46 L11.8,297.45 L12.2,297.43 L12.6,297.41 L13.0,297.40 L13.4,297.38 L13.8,297.36 L14.2,297.35 L14.6,297.33 L15.0,297.31 L15.4,297.29 L15.8,297.28 L16.2,297.26 L16.6,297.24 L17.0,297.23 L17.4,297.21 L17.8,297.19 L18.2,297.18 L18.6,297.16 L19.0,297.14 L19.4,297.13 L19.8,297.11 L20.2,297.09 L20.6,297.08 L21.0,297.06 L21.4,297.04 L21.8,297.03 L22.2,297.01 L22.6,297.00 L23.0,296.98 L23.4,296.96 L23.8,296.95 L24.2,296.93 L24.6,296.92 L25.0,296.90 L25.4,296.88 L25.8,296.87 L26.2,296.85 L26.6,296.84 L27.0,296.82 L27.4,296.80 L27.8,296.79 L28.2,296.77 L28.6,296.76 L29.0,296.74 L29.4,296.73 L29.8,296.71 L30.2,296.69 L30.6,296.62 L31.0,296.35 L31.4,295.74 L31.8,295.03 L32.2,294.83 L32.6,295.24 L33.0,295.88 L33.4,296.37 L33.8,296.61 L34.2,296.69 L34.6,296.71 L35.0,296.71 L35.4,296.72 L35.8,296.72 L36.2,296.72 L36.6,296.72 L37.0,296.72 L37.4,296.72 L37.8,296.72 L38.2,296.72 L38.6,296.73 L39.0,296.73 L39.4,296.73 L39.8,296.73 L40.2,296.73 L40.6,296.73 L41.0,296.73 L41.4,296.73 L41.8,296.74 L42.2,296.74 L42.6,296.74 L43.0,296.74 L43.4,296.74 L43.8,296.74 L44.2,296.74 L44.6,296.74 L45.0,296.74 L45.4,296.75 L45.8,296.75 L46.2,296.75 L46.6,296.75 L47.0,296.75 L47.4,296.75 L47.8,296.75 L48.2,296.75 L48.6,296.76 L49.0,296.76 L49.4,296.76 L49.8,296.76 L50.2,296.76 L50.6,296.76 L51.0,296.76 L51.4,296.76 L51.8,296.77 L52.2,296.77 L52.6,296.77 L53.0,296.77 L53.4,296.77 L53.8,296.77 L54.2,296.77 L54.6,296.77 L55.0,296.77 L55.4,296.78 L55.8,296.78 L56.2,296.78 L56.6,296.78 L57.0,296.78 L57.4,296.78 L57.8,296.78 L58.2,296.78 L58.6,296.79 L59.0,296.79 L59.4,296.79 L59.8,296.79 L60.2,296.79 L60.6,296.79 L61.0,296.79 L61.4,296.79 L61.8,296.79 L62.2,296.80 L62.6,296.80 L63.0,296.80 L63.4,296.79 L63.8,296.79 L64.2,296.78 L64.6,296.77 L65.0,296.76 L65.4,296.75 L65.8,296.74 L66.2,296.73 L66.6,296.72 L67.0,296.71 L67.4,296.70 L67.8,296.69 L68.2,296.68 L68.6,296.67 L69.0,296.66 L69.4,296.65 L69.8,296.64 L70.2,296.63 L70.6,296.61 L71.0,296.60 L71.4,296.59 L71.8,296.58 L72.2,296.57 L72.6,296.56 L73.0,296.55 L73.4,296.54 L73.8,296.53 L74.2,296.52 L74.6,296.50 L75.0,296.47 L75.4,296.43 L75.8,296.37 L76.2,296.31 L76.6,296.24 L77.0,296.18 L77.4,296.12 L77.8,296.05 L78.2,295.99 L78.6,295.92 L79.0,295.86 L79.4,295.79 L79.8,295.72 L80.2,295.64 L80.6,295.55 L81.0,295.46 L81.4,295.36 L81.8,295.26 L82.2,295.16 L82.6,295.07 L83.0,294.97 L83.4,294.87 L83.8,294.79 L84.2,294.72 L84.6,294.67 L85.0,294.62 L85.4,294.59 L85.8,294.56 L86.2,294.53 L86.6,294.49 L87.0,294.46 L87.4,294.42 L87.8,294.39 L88.2,294.36 L88.6,294.34 L89.0,294.32 L89.4,294.31 L89.8,294.29 L90.2,294.17 L90.6,293.68 L91.0,292.57 L91.4,291.26 L91.8,290.89 L92.2,291.65 L92.6,292.84 L93.0,293.76 L93.4,294.19 L93.8,294.31 L94.2,294.28 L94.6,294.21 L95.0,294.10 L95.4,294.01 L95.8,293.98 L96.2,294.01 L96.6,294.09 L97.0,294.24 L97.4,294.41 L97.8,294.59 L98.2,294.76 L98.6,294.92 L99.0,295.03 L99.4,295.11 L99.8,295.15 L100.2,295.15 L100.6,295.13 L101.0,295.11 L101.4,295.08 L101.8,295.06 L102.2,295.04 L102.6,295.01 L103.0,294.98 L103.4,294.93 L103.8,294.88 L104.2,294.82 L104.6,294.75 L105.0,294.66 L105.4,294.56 L105.8,294.45 L106.2,294.32 L106.6,294.22 L107.0,294.18 L107.4,294.19 L107.8,294.26 L108.2,294.39 L108.6,294.55 L109.0,294.71 L109.4,294.85 L109.8,294.96 L110.2,295.04 L110.6,295.09 L111.0,295.11 L111.4,295.11 L111.8,295.11 L112.2,295.11 L112.6,295.11 L113.0,295.12 L113.4,295.12 L113.8,295.12 L114.2,295.12 L114.6,295.12 L115.0,295.12 L115.4,295.13 L115.8,295.13 L116.2,295.13 L116.6,295.13 L117.0,295.14 L117.4,295.14 L117.8,295.14 L118.2,295.14 L118.6,295.14 L119.0,295.15 L119.4,295.15 L119.8,295.15 L120.2,295.15 L120.6,295.15 L121.0,295.16 L121.4,295.16 L121.8,295.16 L122.2,295.16 L122.6,295.16 L123.0,295.17 L123.4,295.17 L123.8,295.17 L124.2,295.17 L124.6,295.17 L125.0,295.18 L125.4,295.18 L125.8,295.18 L126.2,295.18 L126.6,295.18 L127.0,295.19 L127.4,295.19 L127.8,295.19 L128.2,295.19 L128.6,295.19 L129.0,295.19 L129.4,295.20 L129.8,295.20 L130.2,295.21 L130.6,295.21 L131.0,295.22 L131.4,295.23 L131.8,295.24 L132.2,295.25 L132.6,295.26 L133.0,295.27 L133.4,295.28 L133.8,295.29 L134.2,295.30 L134.6,295.30 L135.0,295.31 L135.4,295.32 L135.8,295.33 L136.2,295.34 L136.6,295.35 L137.0,295.36 L137.4,295.37 L137.8,295.38 L138.2,295.39 L138.6,295.40 L139.0,295.40 L139.4,295.41 L139.8,295.42 L140.2,295.43 L140.6,295.44 L141.0,295.45 L141.4,295.46 L141.8,295.47 L142.2,295.48 L142.6,295.49 L143.0,295.50 L143.4,295.50 L143.8,295.51 L144.2,295.52 L144.6,295.53 L145.0,295.54 L145.4,295.55 L145.8,295.56 L146.2,295.57 L146.6,295.58 L147.0,295.59 L147.4,295.59 L147.8,295.60 L148.2,295.60 L148.6,295.60 L149.0,295.60 L149.4,295.60 L149.8,295.60 L150.2,295.60 L150.6,295.60 L151.0,295.60 L151.4,295.60 L151.8,295.60 L152.2,295.60 L152.6,295.60 L153.0,295.60 L153.4,295.60 L153.8,295.60 L154.2,295.60 L154.6,295.60 L155.0,295.60 L155.4,295.60 L155.8,295.60 L156.2,295.60 L156.6,295.60 L157.0,295.60 L157.4,295.60 L157.8,295.60 L158.2,295.60 L158.6,295.60 L159.0,295.60 L159.4,295.60 L159.8,295.60 L160.2,295.60 L160.6,295.60 L161.0,295.60 L161.4,295.60 L161.8,295.60 L162.2,295.60 L162.6,295.60 L163.0,295.60 L163.4,295.60 L163.8,295.60 L164.2,295.60 L164.6,295.60 L165.0,295.60 L165.4,295.60 L165.8,295.60 L166.2,295.60 L166.6,295.60 L167.0,295.60 L167.4,295.60 L167.8,295.60 L168.2,295.60 L168.6,295.60 L169.0,295.60 L169.4,295.60 L169.8,295.60 L170.2,295.60 L170.6,295.60 L171.0,295.60 L171.4,295.60 L171.8,295.60 L172.2,295.60 L172.6,295.60 L173.0,295.60 L173.4,295.60 L173.8,295.60 L174.2,295.60 L174.6,295.60 L175.0,295.60 L175.4,295.60 L175.8,295.60 L176.2,295.60 L176.6,295.60 L177.0,295.60 L177.4,295.60 L177.8,295.60 L178.2,295.60 L178.6,295.60 L179.0,295.60 L179.4,295.60 L179.8,295.60 L180.2,295.60 L180.6,295.60 L181.0,295.60 L181.4,295.60 L181.8,295.60 L182.2,295.60 L182.6,295.60 L183.0,295.60 L183.4,295.60 L183.8,295.60 L184.2,295.60 L184.6,295.60 L185.0,295.59 L185.4,295.57 L185.8,295.55 L186.2,295.53 L186.6,295.50 L187.0,295.48 L187.4,295.46 L187.8,295.43 L188.2,295.41 L188.6,295.38 L189.0,295.36 L189.4,295.34 L189.8,295.31 L190.2,295.29 L190.6,295.26 L191.0,295.24 L191.4,295.22 L191.8,295.19 L192.2,295.17 L192.6,295.14 L193.0,295.12 L193.4,295.10 L193.8,295.07 L194.2,295.05 L194.6,295.01 L195.0,294.97 L195.4,294.91 L195.8,294.84 L196.2,294.76 L196.6,294.68 L197.0,294.61 L197.4,294.53 L197.8,294.45 L198.2,294.37 L198.6,294.29 L199.0,294.21 L199.4,294.13 L199.8,294.05 L200.2,293.98 L200.6,293.90 L201.0,293.83 L201.4,293.79"/>
</g>
<g fill="none" stroke="#000" stroke-width="1.25" stroke-linejoin="round">
<path d="M258.00,173.10 L278.00,173.10 L298.00,173.10 L318.00,173.10 L338.00,173.10 L358.00,173.10 L378.00,173.10 L379.50,173.10 L379.60,173.02 L379.70,172.87 L379.80,172.64 L379.90,172.41 L380.00,172.19 L380.10,171.96 L380.20,171.73 L380.30,171.06 L380.40,169.94 L380.50,168.37 L380.60,166.81 L380.70,165.25 L380.80,163.69 L380.90,162.12 L381.00,160.56 L381.10,158.68 L381.20,156.49 L381.30,153.97 L381.40,151.46 L381.50,148.94 L381.60,146.43 L381.70,143.91 L381.80,140.48 L381.90,136.12 L382.00,130.84 L382.10,125.56 L382.20,120.28 L382.30,115.01 L382.40,109.74 L382.50,104.48 L382.60,99.22 L382.70,93.96 L382.80,88.70 L382.90,83.43 L383.00,78.17 L383.10,72.91 L383.20,67.65 L383.30,62.39 L383.40,58.88 L383.50,58.88 L383.60,62.39 L383.70,67.65 L383.80,72.91 L383.90,78.17 L384.00,83.43 L384.10,88.70 L384.20,93.96 L384.30,99.22 L384.40,104.48 L384.50,109.74 L384.60,115.01 L384.70,120.28 L384.80,125.56 L384.90,130.84 L385.00,136.12 L385.10,140.29 L385.20,143.36 L385.30,145.31 L385.40,147.27 L385.50,149.22 L385.60,151.18 L385.70,153.13 L385.80,155.09 L385.90,157.04 L386.00,158.70 L386.10,160.06 L386.20,161.13 L386.30,162.19 L386.40,163.25 L386.50,164.31 L386.60,165.38 L386.70,166.44 L386.80,167.24 L386.90,167.78 L387.00,168.06 L387.10,168.34 L387.20,168.62 L387.30,168.90 L387.40,169.18 L387.50,169.46 L387.60,169.74 L387.70,170.02 L387.80,170.23 L387.90,170.38 L388.00,170.45 L388.10,170.53 L388.20,170.61 L388.30,170.68 L388.40,170.76 L388.50,170.84 L388.60,170.91 L388.70,170.99 L388.80,171.06 L388.90,171.14 L389.00,171.22 L389.10,171.29 L389.20,171.37 L389.30,171.45 L389.40,171.52 L389.50,171.59 L389.60,171.65 L389.70,171.69 L389.80,171.74 L389.90,171.78 L390.00,171.83 L390.10,171.87 L390.20,171.92 L390.30,171.96 L390.40,172.01 L390.50,172.05 L390.60,172.10 L390.70,172.14 L390.80,172.19 L390.90,172.23 L391.00,172.28 L391.10,172.32 L391.20,172.37 L391.30,172.41 L391.40,172.46 L391.50,172.50 L391.60,172.53 L391.70,172.56 L391.80,172.59 L391.90,172.62 L392.00,172.65 L392.10,172.68 L392.20,172.71 L392.30,172.74 L392.40,172.77 L392.50,172.80 L392.60,172.83 L392.70,172.86 L392.80,172.89 L392.90,172.92 L393.00,172.95 L393.10,172.98 L393.20,173.01 L393.30,173.04 L393.60,173.10 L413.60,173.10 L433.60,173.10 L453.60,173.10 L473.60,173.10 L493.60,173.10 L513.60,173.10 L533.60,173.10 L553.60,173.10 L573.60,173.10 L593.60,173.10 L601.00,173.10"/>
<path d="M258.00,306.70 L278.00,306.70 L298.00,306.70 L318.00,306.70 L338.00,306.70 L358.00,306.70 L369.70,306.70 L369.80,306.64 L369.90,306.52 L370.00,306.33 L370.10,306.15 L370.20,305.97 L370.30,305.78 L370.40,305.66 L370.50,305.61 L371.00,305.66 L371.30,305.69 L371.40,305.74 L371.50,305.83 L371.60,305.95 L371.70,306.08 L371.80,306.20 L371.90,306.33 L372.00,306.45 L372.10,306.57 L372.20,306.55 L372.30,306.37 L372.40,306.05 L372.50,305.72 L372.60,305.51 L372.70,305.40 L373.30,305.40 L373.40,305.47 L373.50,305.62 L373.60,305.83 L373.70,306.05 L373.80,306.27 L373.90,306.48 L374.00,306.63 L374.10,306.70 L376.50,306.70 L376.60,306.64 L376.70,306.51 L376.80,306.32 L376.90,306.14 L377.00,305.95 L377.10,305.76 L377.20,305.57 L377.30,305.39 L377.40,305.26 L377.50,305.20 L378.50,305.20 L378.60,305.28 L378.70,305.45 L378.80,305.70 L378.90,305.95 L379.00,306.20 L379.10,306.45 L379.20,306.62 L379.30,306.70 L384.20,306.70 L384.30,306.64 L384.40,306.51 L384.50,306.31 L384.60,306.12 L384.70,305.92 L384.80,305.73 L384.90,305.54 L385.00,305.34 L385.10,305.15 L385.20,304.96 L385.30,304.76 L385.40,304.57 L385.50,304.37 L385.60,304.18 L385.70,303.99 L385.80,303.79 L385.90,303.73 L386.00,303.78 L386.10,303.96 L386.20,304.15 L386.30,304.33 L386.40,304.51 L386.50,304.69 L386.60,304.88 L386.70,305.06 L386.80,305.24 L386.90,305.42 L387.00,305.61 L387.10,305.79 L387.20,305.97 L387.30,306.15 L387.40,306.34 L387.50,306.52 L387.60,306.64 L387.70,306.70 L394.50,306.70 L394.60,306.61 L394.70,306.43 L394.80,306.17 L394.90,305.90 L395.00,305.63 L395.10,305.37 L395.20,305.10 L395.30,304.83 L395.40,304.57 L395.50,304.30 L395.60,304.03 L395.70,303.77 L395.80,303.50 L395.90,303.23 L396.00,302.97 L396.10,302.70 L396.20,302.43 L396.30,302.17 L396.40,302.07 L396.50,302.14 L396.60,302.38 L396.70,302.62 L396.80,302.86 L396.90,303.10 L397.00,303.34 L397.10,303.58 L397.20,303.82 L397.30,304.06 L397.40,304.30 L397.50,304.54 L397.60,304.78 L397.70,305.02 L397.80,305.26 L397.90,305.50 L398.00,305.74 L398.10,305.98 L398.20,306.22 L398.30,306.46 L398.40,306.62 L398.50,306.70 L417.40,306.70 L417.50,306.68 L417.60,306.63 L417.70,306.57 L417.80,306.50 L417.90,306.44 L418.00,306.37 L418.10,306.31 L418.20,306.24 L418.30,306.18 L418.40,306.11 L418.50,306.05 L418.60,305.98 L418.70,305.92 L418.80,305.85 L418.90,305.79 L419.00,305.72 L419.10,305.66 L419.20,305.59 L419.30,305.53 L419.40,305.46 L419.60,305.41 L420.40,305.46 L421.20,305.52 L422.00,305.57 L422.30,305.59 L422.40,305.56 L422.50,305.47 L422.60,305.35 L422.70,305.22 L422.80,305.10 L422.90,304.97 L423.00,304.85 L423.10,304.72 L423.20,304.20 L423.30,303.28 L423.40,301.96 L423.50,300.64 L423.60,299.32 L423.70,297.41 L423.80,294.91 L423.90,291.83 L424.00,288.74 L424.10,285.66 L424.20,282.57 L424.30,279.49 L424.40,276.52 L424.50,273.69 L424.60,270.98 L424.70,268.27 L424.80,265.56 L424.90,262.84 L425.00,260.13 L425.10,257.42 L425.20,254.71 L425.30,251.74 L425.40,248.51 L425.50,245.01 L425.60,241.52 L425.70,238.02 L425.80,234.53 L425.90,231.04 L426.00,227.54 L426.10,224.05 L426.20,220.55 L426.30,217.06 L426.40,213.56 L426.50,210.07 L426.60,206.58 L426.70,203.08 L426.80,199.59 L426.90,196.09 L427.00,195.08 L427.10,196.56 L427.20,200.52 L427.30,204.48 L427.40,208.44 L427.50,212.40 L427.60,216.36 L427.70,220.32 L427.80,224.28 L427.90,228.24 L428.00,232.20 L428.10,236.16 L428.20,240.12 L428.30,244.08 L428.40,248.04 L428.50,251.58 L428.60,254.71 L428.70,257.42 L428.80,260.13 L428.90,262.84 L429.00,265.56 L429.10,268.27 L429.20,270.98 L429.30,273.69 L429.40,275.92 L429.50,277.66 L429.60,278.91 L429.70,280.17 L429.80,281.43 L429.90,282.69 L430.00,283.94 L430.10,285.20 L430.20,286.46 L430.30,287.71 L430.40,288.97 L430.50,290.23 L430.60,291.49 L430.70,292.74 L430.80,293.69 L430.90,294.32 L431.00,294.65 L431.10,294.97 L431.20,295.29 L431.30,295.62 L431.40,295.94 L431.50,296.26 L431.60,296.59 L431.70,296.91 L431.80,297.24 L431.90,297.56 L432.00,297.88 L432.10,298.21 L432.20,298.53 L432.30,298.85 L432.40,299.18 L432.50,299.43 L432.60,299.61 L432.70,299.72 L432.80,299.83 L432.90,299.95 L433.00,300.06 L433.10,300.17 L433.20,300.28 L433.30,300.39 L433.40,300.50 L433.50,300.61 L433.60,300.73 L433.70,300.84 L433.80,300.95 L433.90,301.06 L434.00,301.17 L434.10,301.28 L434.20,301.39 L434.30,301.51 L434.40,301.62 L434.50,301.73 L434.60,301.84 L434.70,301.95 L434.80,302.06 L434.90,302.17 L435.00,302.29 L435.10,302.40 L435.20,302.51 L435.30,302.62 L435.40,302.73 L435.50,302.84 L435.60,302.95 L435.70,303.07 L435.80,303.18 L435.90,303.29 L436.00,303.37 L436.10,303.43 L436.20,303.45 L436.30,303.48 L436.40,303.51 L436.50,303.53 L436.60,303.56 L436.70,303.58 L436.80,303.61 L436.90,303.64 L437.00,303.66 L437.10,303.69 L437.20,303.72 L437.30,303.74 L437.40,303.77 L437.50,303.79 L437.60,303.82 L437.70,303.85 L437.80,303.87 L437.90,303.90 L438.00,303.93 L438.10,303.95 L438.20,303.98 L438.30,304.00 L438.40,304.03 L438.50,304.06 L438.60,304.08 L438.70,304.11 L438.80,304.14 L438.90,304.16 L439.00,304.19 L439.10,304.21 L439.20,304.24 L439.30,304.27 L439.40,304.29 L439.50,304.32 L439.60,304.35 L439.70,304.37 L439.80,304.40 L439.90,304.42 L440.00,304.45 L440.10,304.48 L440.20,304.50 L440.30,304.53 L440.40,304.56 L440.50,304.58 L440.60,304.61 L440.70,304.63 L440.80,304.66 L440.90,304.69 L441.00,304.71 L441.10,304.74 L441.20,304.77 L441.30,304.79 L441.40,304.82 L441.50,304.84 L441.60,304.87 L441.70,304.90 L441.80,304.92 L441.90,304.95 L442.00,304.98 L442.10,305.00 L442.20,305.03 L442.30,305.05 L442.40,305.08 L442.50,305.11 L442.60,305.13 L442.70,305.16 L442.80,305.19 L442.90,305.21 L443.00,305.24 L443.10,305.26 L443.20,305.29 L443.30,305.32 L443.40,305.34 L443.50,305.37 L443.60,305.40 L443.70,305.42 L443.80,305.45 L444.10,305.50 L445.20,305.56 L446.30,305.61 L447.40,305.66 L448.50,305.72 L449.60,305.77 L450.70,305.82 L451.80,305.87 L452.90,305.93 L454.00,305.98 L455.10,306.03 L456.20,306.09 L457.30,306.14 L458.40,306.19 L459.50,306.24 L460.60,306.30 L461.70,306.35 L462.80,306.40 L463.90,306.46 L465.00,306.51 L466.10,306.56 L467.20,306.61 L468.30,306.67 L488.30,306.70 L508.30,306.70 L528.30,306.70 L548.30,306.70 L566.50,306.68 L566.60,306.65 L566.70,306.61 L566.80,306.56 L566.90,306.52 L567.00,306.47 L567.10,306.43 L567.20,306.38 L567.30,306.34 L567.40,306.29 L567.50,306.25 L567.60,306.20 L567.70,306.15 L567.80,306.11 L567.90,306.06 L568.00,306.02 L568.10,305.97 L568.20,305.93 L568.30,305.88 L568.40,305.84 L568.50,305.79 L568.70,305.73 L568.80,305.74 L568.90,305.79 L569.00,305.83 L569.10,305.87 L569.20,305.92 L569.30,305.96 L569.40,306.00 L569.50,306.05 L569.60,306.09 L569.70,306.13 L569.80,306.18 L569.90,306.22 L570.00,306.27 L570.10,306.31 L570.20,306.35 L570.30,306.40 L570.40,306.44 L570.50,306.48 L570.60,306.53 L570.70,306.57 L570.80,306.61 L570.90,306.66 L590.90,306.70 L601.00,306.70"/>
</g>
<g stroke="#000" stroke-width="1.8" stroke-linecap="round"><line x1="88.05" y1="105.95" x2="88.05" y2="115.85"/><line x1="83.76" y1="108.43" x2="92.34" y2="113.38"/><line x1="92.34" y1="108.43" x2="83.76" y2="113.38"/></g>
<g stroke="#000" stroke-width="1.8" stroke-linecap="round"><line x1="88.00" y1="169.65" x2="88.00" y2="179.55"/><line x1="83.71" y1="172.12" x2="92.29" y2="177.07"/><line x1="92.29" y1="172.12" x2="83.71" y2="177.07"/></g>
<g stroke="#000" stroke-width="1.8" stroke-linecap="round"><line x1="126.20" y1="281.75" x2="126.20" y2="291.65"/><line x1="121.91" y1="284.22" x2="130.49" y2="289.18"/><line x1="130.49" y1="284.22" x2="121.91" y2="289.18"/></g>
<g stroke="#000" stroke-width="1.8" stroke-linecap="round"><line x1="429.00" y1="157.75" x2="429.00" y2="167.65"/><line x1="424.71" y1="160.22" x2="433.29" y2="165.17"/><line x1="433.29" y1="160.22" x2="424.71" y2="165.17"/></g>
<g stroke="#000" stroke-width="1.8" stroke-linecap="round"><line x1="384.80" y1="288.45" x2="384.80" y2="298.35"/><line x1="380.51" y1="290.92" x2="389.09" y2="295.88"/><line x1="389.09" y1="290.92" x2="380.51" y2="295.88"/></g>
<path d="M8.4,191 H201.6 M8.4,191 v5.9 M73.2,191 v5.9 M136.3,191 v5.9 M201.6,191 v5.9" fill="none" stroke="#000" stroke-width="1.25" stroke-linecap="square"/>
<text x="8.4" y="206.6" class="tk" text-anchor="middle">6</text>
<text x="73.2" y="206.6" class="tk" text-anchor="middle">8</text>
<text x="136.3" y="206.6" class="tk" text-anchor="middle">10</text>
<text x="201.6" y="206.6" class="tk" text-anchor="middle">12</text>
<path d="M8.8,304.2 H201.8 M8.8,304.2 v5.9 M73.3,304.2 v5.9 M136.5,304.2 v5.9 M201.8,304.2 v5.9" fill="none" stroke="#000" stroke-width="1.25" stroke-linecap="square"/>
<text x="8.8" y="319.8" class="tk" text-anchor="middle">20</text>
<text x="73.3" y="319.8" class="tk" text-anchor="middle">25</text>
<text x="136.5" y="319.8" class="tk" text-anchor="middle">30</text>
<text x="201.8" y="319.8" class="tk" text-anchor="middle">35</text>
<path d="M258,38.2 V306.8 H601 M258,38.25 h-4.6 M258,71.90 h-4.6 M258,106.00 h-4.6 M258,139.50 h-4.6 M258,173.05 h-4.6 M258,206.51 h-4.6 M258,239.97 h-4.6 M258,273.43 h-4.6 M258,306.89 h-4.6 M258,306.8 v5.6 M342,306.8 v5.6 M429,306.8 v5.6 M515.6,306.8 v5.6 M601,306.8 v5.6" fill="none" stroke="#000" stroke-width="1.2" stroke-linecap="square"/>
<text x="251.8" y="40.15" class="tk tb" text-anchor="end">100</text>
<text x="251.5" y="75.20" class="tk tb" text-anchor="end">75</text>
<text x="251.5" y="109.30" class="tk tb" text-anchor="end">50</text>
<text x="251.5" y="142.80" class="tk tb" text-anchor="end">25</text>
<text x="251.8" y="174.95" class="tk tb" text-anchor="end">100</text>
<text x="251.5" y="209.81" class="tk tb" text-anchor="end">75</text>
<text x="251.5" y="243.27" class="tk tb" text-anchor="end">50</text>
<text x="251.5" y="276.73" class="tk tb" text-anchor="end">25</text>
<text x="248.7" y="311.7" class="tk tb" text-anchor="end">0</text>
<text x="258" y="322.0" class="tk tb" text-anchor="middle">0</text>
<text x="342" y="322.0" class="tk tb" text-anchor="middle">5</text>
<text x="429" y="322.0" class="tk tb" text-anchor="middle">10</text>
<text x="515.6" y="322.0" class="tk tb" text-anchor="middle">15</text>
<text x="601" y="322.0" class="tk tb" text-anchor="middle">20</text>
<path d="M415.2,123.25 H585.7" fill="none" stroke="#000" stroke-width="1.45"/><path d="M415.90,123.25 v4.4 M432.81,123.25 v4.4 M449.72,123.25 v4.4 M466.63,123.25 v4.4 M483.54,123.25 v4.4 M500.45,123.25 v4.4 M517.36,123.25 v4.4 M534.27,123.25 v4.4 M551.18,123.25 v4.4 M568.09,123.25 v4.4 M585.00,123.25 v4.4 " fill="none" stroke="#000" stroke-width="1.4"/><path d="M420.13,123.25 v1.7 M424.35,123.25 v1.7 M428.58,123.25 v1.7 M437.04,123.25 v1.7 M441.26,123.25 v1.7 M445.49,123.25 v1.7 M453.95,123.25 v1.7 M458.17,123.25 v1.7 M462.40,123.25 v1.7 M470.86,123.25 v1.7 M475.08,123.25 v1.7 M479.31,123.25 v1.7 M487.77,123.25 v1.7 M492.00,123.25 v1.7 M496.22,123.25 v1.7 M504.68,123.25 v1.7 M508.90,123.25 v1.7 M513.13,123.25 v1.7 M521.59,123.25 v1.7 M525.81,123.25 v1.7 M530.04,123.25 v1.7 M538.50,123.25 v1.7 M542.73,123.25 v1.7 M546.95,123.25 v1.7 M555.41,123.25 v1.7 M559.63,123.25 v1.7 M563.86,123.25 v1.7 M572.32,123.25 v1.7 M576.55,123.25 v1.7 M580.77,123.25 v1.7 " fill="none" stroke="#000" stroke-width="1.1"/>
<path d="M456.8,260.3 H627.3000000000001" fill="none" stroke="#000" stroke-width="1.45"/><path d="M457.50,260.3 v4.4 M474.41,260.3 v4.4 M491.32,260.3 v4.4 M508.23,260.3 v4.4 M525.14,260.3 v4.4 M542.05,260.3 v4.4 M558.96,260.3 v4.4 M575.87,260.3 v4.4 M592.78,260.3 v4.4 M609.69,260.3 v4.4 M626.60,260.3 v4.4 " fill="none" stroke="#000" stroke-width="1.4"/><path d="M461.73,260.3 v1.7 M465.95,260.3 v1.7 M470.18,260.3 v1.7 M478.64,260.3 v1.7 M482.87,260.3 v1.7 M487.09,260.3 v1.7 M495.55,260.3 v1.7 M499.77,260.3 v1.7 M504.00,260.3 v1.7 M512.46,260.3 v1.7 M516.69,260.3 v1.7 M520.91,260.3 v1.7 M529.37,260.3 v1.7 M533.60,260.3 v1.7 M537.82,260.3 v1.7 M546.28,260.3 v1.7 M550.50,260.3 v1.7 M554.73,260.3 v1.7 M563.19,260.3 v1.7 M567.41,260.3 v1.7 M571.64,260.3 v1.7 M580.10,260.3 v1.7 M584.33,260.3 v1.7 M588.55,260.3 v1.7 M597.01,260.3 v1.7 M601.24,260.3 v1.7 M605.46,260.3 v1.7 M613.92,260.3 v1.7 M618.14,260.3 v1.7 M622.37,260.3 v1.7 " fill="none" stroke="#000" stroke-width="1.1"/>
<g stroke="#000"><line x1="433.3" y1="123.25" x2="433.3" y2="121.7" stroke-width="0.9"/><line x1="443.9" y1="123.25" x2="443.9" y2="122.0" stroke-width="0.9"/><line x1="452" y1="123.25" x2="452" y2="122.1" stroke-width="0.9"/><line x1="472" y1="123.25" x2="472" y2="121.9" stroke-width="0.9"/><line x1="476" y1="123.25" x2="476" y2="122.0" stroke-width="0.9"/><line x1="480.5" y1="123.25" x2="480.5" y2="121.8" stroke-width="0.9"/><line x1="497" y1="123.25" x2="497" y2="121.8" stroke-width="0.9"/><line x1="503" y1="123.25" x2="503" y2="121.9" stroke-width="0.9"/><line x1="512" y1="123.25" x2="512" y2="121.6" stroke-width="0.9"/><line x1="525" y1="123.25" x2="525" y2="121.8" stroke-width="0.9"/><line x1="539" y1="123.25" x2="539" y2="121.9" stroke-width="0.9"/><line x1="552" y1="123.25" x2="552" y2="121.7" stroke-width="0.9"/><line x1="566" y1="123.25" x2="566" y2="121.8" stroke-width="0.9"/><line x1="571" y1="123.25" x2="571" y2="121.9" stroke-width="0.9"/></g>
<g stroke="#000"><line x1="457.5" y1="123.25" x2="457.5" y2="121.8" stroke-width="1.35"/><line x1="461.5" y1="123.25" x2="461.5" y2="121.8" stroke-width="1.35"/><line x1="464.7" y1="123.25" x2="464.7" y2="120.2" stroke-width="1.35"/><line x1="468.6" y1="123.25" x2="468.6" y2="121.9" stroke-width="1.35"/><line x1="486.9" y1="123.25" x2="486.9" y2="121.1" stroke-width="1.35"/><line x1="491.6" y1="123.25" x2="491.6" y2="118.3" stroke-width="1.35"/><line x1="493.7" y1="123.25" x2="493.7" y2="114" stroke-width="1.35"/><line x1="508.6" y1="123.25" x2="508.6" y2="117.2" stroke-width="1.35"/><line x1="515.9" y1="123.25" x2="515.9" y2="112.7" stroke-width="1.35"/><line x1="521" y1="123.25" x2="521" y2="117.8" stroke-width="1.35"/><line x1="529.7" y1="123.25" x2="529.7" y2="121" stroke-width="1.35"/><line x1="535.2" y1="123.25" x2="535.2" y2="121.3" stroke-width="1.35"/><line x1="544.6" y1="123.25" x2="544.6" y2="104.8" stroke-width="1.5"/><line x1="546.6" y1="123.25" x2="546.6" y2="119" stroke-width="1.35"/><line x1="548.7" y1="123.25" x2="548.7" y2="121" stroke-width="1.35"/><line x1="559.4" y1="123.25" x2="559.4" y2="58.7" stroke-width="1.55"/><line x1="560.7" y1="123.25" x2="560.7" y2="100.8" stroke-width="1.3"/><line x1="561.7" y1="123.25" x2="561.7" y2="116.7" stroke-width="1.35"/><line x1="578.3" y1="123.25" x2="578.3" y2="119.5" stroke-width="1.35"/></g>
<g stroke="#000"><line x1="517.4" y1="260.1" x2="517.4" y2="258.0" stroke-width="1.35"/><line x1="524.4" y1="260.1" x2="524.4" y2="256.2" stroke-width="1.35"/><line x1="574.9" y1="260.1" x2="574.9" y2="196.7" stroke-width="1.55"/><line x1="576.1" y1="260.1" x2="576.1" y2="250" stroke-width="1.3"/><line x1="577.2" y1="260.1" x2="577.2" y2="257.5" stroke-width="1.35"/><line x1="592.6" y1="260.1" x2="592.6" y2="253.5" stroke-width="1.35"/><line x1="505" y1="260.1" x2="505" y2="259" stroke-width="1.35"/><line x1="534" y1="260.1" x2="534" y2="259" stroke-width="1.35"/></g>
<text x="1.0" y="16.3" class="pl">(A)</text>
<text x="265.6" y="16.2" class="pl">(B)</text>
<text x="8.1" y="81.7" class="b12">NRRL 15439</text>
<text x="9.0" y="113.6" class="b12" style="font-size:12px">ΔstuD1</text>
<text x="9.2" y="181.7" class="b12">ΔstuD2</text>
<text x="5.3" y="257.0" class="b12">ATCC 31319</text>
<text x="8.3" y="291.9" class="b12" style="font-size:12px">ΔtlmD1</text>
<text x="86.2" y="35.7" class="b9" text-anchor="middle">8.39</text>
<text x="159.3" y="131.5" class="b9" text-anchor="middle">10.93</text>
<text x="124.9" y="215.8" class="b9" text-anchor="middle">27.14</text>
<text x="74.3" y="337" class="r12">Time (min)</text>
<text x="399.5" y="336.6" class="r12">Time (min)</text>
<text transform="translate(232.1,197.6) rotate(-90)" class="r12" text-anchor="middle">Relative abundance (%)</text>
<text x="270.6" y="60.6" class="b12">NRRL 15439</text>
<text x="270.3" y="193.2" class="b12">ΔstuD2</text>
<text x="361.7" y="50.5" class="b12">Tü 3010</text>
<text x="382.9" y="188.4" class="b12">Thiotetromycin</text>
<text x="561.0" y="55.5" class="b95" text-anchor="middle">268.1002</text>
<text x="606.3" y="76.4" class="b95" text-anchor="middle">Tü 3010</text>
<text x="606.0" y="88.5" class="b95" text-anchor="middle">[M+H]<tspan dy="-3.1" font-size="6.2">+</tspan><tspan dy="3.1">=268.1002</tspan></text>
<text x="575.8" y="193.1" class="b95" text-anchor="middle">239.1102</text>
<text x="621.8" y="215.8" class="b95" text-anchor="middle">Thiotetromycin</text>
<text x="621.9" y="228.3" class="b95" text-anchor="middle">[M+H]<tspan dy="-3.1" font-size="6.2">+</tspan><tspan dy="3.1">=239.1100</tspan></text>
<text x="415.9" y="137.7" class="b8" text-anchor="middle">100</text>
<text x="500.4" y="137.7" class="b8" text-anchor="middle">200</text>
<text x="585" y="137.7" class="b8" text-anchor="middle">300</text>
<text x="457.5" y="274.4" class="b8" text-anchor="middle">100</text>
<text x="542.0" y="274.4" class="b8" text-anchor="middle">200</text>
<text x="626.6" y="274.4" class="b8" text-anchor="middle">300</text>
<text x="501" y="155.1" class="b95" text-anchor="middle">(<tspan font-style="italic">m/z</tspan>)</text>
<text x="543.8" y="288.6" class="b95" text-anchor="middle">(<tspan font-style="italic">m/z</tspan>)</text>
<path d="M423.00,78.30 L435.00,85.50 M424.29,76.16 L435.17,82.69 M435.00,85.50 L447.00,78.40 M447.00,78.40 L447.00,65.00 M447.00,78.40 L459.60,85.40 M449.99,77.55 L460.14,83.19 M459.60,85.40 L471.30,78.30 M479.60,65.10 L490.20,65.10 M490.20,65.10 L494.30,78.20 M494.30,78.20 L482.90,86.50 M494.35,80.64 L485.21,87.29 M482.90,86.50 L471.30,78.30 M490.20,65.10 L494.91,56.66 M492.43,65.20 L496.80,57.37 M494.30,78.20 L508.40,82.30 M508.40,82.30 L511.70,95.60 M482.90,86.50 L482.90,95.40 M467.80,64.00 L468.10,50.40 " fill="none" stroke="#0a0a0a" stroke-width="1.15" stroke-linecap="round" stroke-linejoin="round"/><path d="M470.50,77.31 L471.36,77.03 M469.48,75.14 L470.90,74.68 M468.45,72.98 L470.45,72.32 M467.43,70.81 L469.99,69.97 M466.40,68.64 L469.54,67.62 " fill="none" stroke="#0a0a0a" stroke-width="1.1"/><path d="M471.30,78.30 L475.94,70.96 L473.26,69.84 Z" fill="#0a0a0a" stroke="#0a0a0a" stroke-width="0.5" stroke-linejoin="round"/>
<path d="M468.10,50.40 L459.48,45.92 M466.29,51.71 L458.20,47.51 M468.10,50.40 L475.20,46.30 " fill="none" stroke="#0a0a0a" stroke-width="1.15" stroke-linecap="round"/>
<text x="455.4" y="47.1" class="ch" text-anchor="middle" textLength="6.4" lengthAdjust="spacingAndGlyphs">O</text>
<text x="476.4" y="46.9" class="ch" textLength="16.6" lengthAdjust="spacingAndGlyphs">NH<tspan dy="1.8" font-size="6.6">2</tspan></text>
<text x="475.6" y="68.3" class="ch" text-anchor="middle" textLength="5.6" lengthAdjust="spacingAndGlyphs">S</text>
<text x="497.0" y="56.1" class="ch" text-anchor="middle" textLength="6.4" lengthAdjust="spacingAndGlyphs">O</text>
<text x="479.7" y="104.2" class="ch" textLength="12.6" lengthAdjust="spacingAndGlyphs">OH</text>
<path d="M465.40,222.50 L477.50,229.50 M466.65,220.34 L477.63,226.69 M477.50,229.50 L488.70,222.70 M488.70,222.70 L488.70,208.60 M488.70,222.70 L500.80,229.60 M491.70,221.88 L501.37,227.39 M500.80,229.60 L512.70,222.50 M520.40,209.53 L531.30,209.30 M531.30,209.30 L534.70,222.10 M534.70,222.10 L523.60,230.10 M534.73,224.54 L525.91,230.90 M523.60,230.10 L512.70,222.50 M531.30,209.30 L534.90,202.22 M533.54,209.32 L536.82,202.86 M534.70,222.10 L549.30,226.10 M549.30,226.10 L551.90,239.30 M523.60,230.10 L523.80,239.60 M509.20,208.60 L509.20,195.30 " fill="none" stroke="#0a0a0a" stroke-width="1.15" stroke-linecap="round" stroke-linejoin="round"/><path d="M511.93,221.48 L512.79,221.22 M510.96,219.26 L512.40,218.84 M509.99,217.05 L512.01,216.45 M509.03,214.83 L511.61,214.07 M508.06,212.62 L511.22,211.68 " fill="none" stroke="#0a0a0a" stroke-width="1.1"/><path d="M512.70,222.50 L516.78,214.33 L514.02,213.47 Z" fill="#0a0a0a" stroke="#0a0a0a" stroke-width="0.5" stroke-linejoin="round"/>
<text x="516.5" y="213.1" class="ch2" text-anchor="middle" textLength="5.0" lengthAdjust="spacingAndGlyphs">S</text>
<text x="536.8" y="201.7" class="ch2" text-anchor="middle" textLength="6.2" lengthAdjust="spacingAndGlyphs">O</text>
<text x="520.6" y="248.0" class="ch2" textLength="11.0" lengthAdjust="spacingAndGlyphs">OH</text>
</svg>
</body></html>
